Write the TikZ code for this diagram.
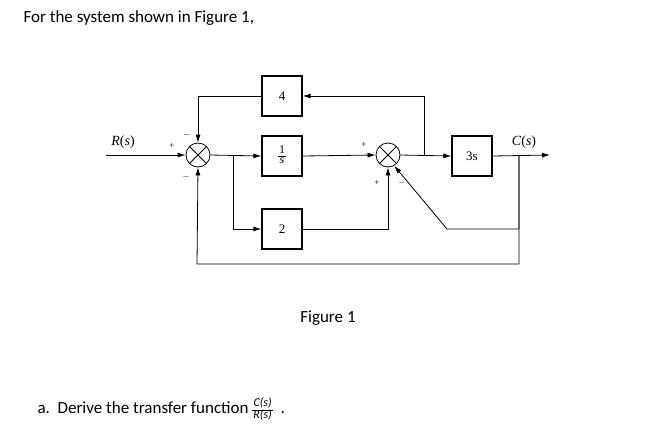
\documentclass[tikz,border=0pt]{standalone}
\usepackage{fontspec}
\setmainfont{Liberation Serif}
\newfontfamily\carl{Carlito}
\usetikzlibrary{arrows.meta}
\newcommand{\stk}[2]{\renewcommand{\arraystretch}{0.85}\setlength{\tabcolsep}{1pt}\begin{tabular}{c}#1\\\hline #2\end{tabular}}
\begin{document}
\begin{tikzpicture}[x=1pt,y=-1pt,
  blk/.style={draw,line width=1.3pt,minimum width=40pt,minimum height=40pt,inner sep=0pt,font=\fontsize{13}{14}\selectfont},
  sum/.style={draw,circle,minimum size=24pt,inner sep=0pt,line width=0.8pt},
  ln/.style={line width=0.8pt},
  ar/.style={ln,-{Latex[length=8pt,width=5pt]}},
  sg/.style={font=\fontsize{9}{9}\selectfont,inner sep=0pt},
  lb/.style={font=\fontsize{14}{15}\selectfont}]
\useasboundingbox (0,0) rectangle (650,432);
\node[font=\carl\fontsize{17}{18}\selectfont,anchor=west] (t) at (20,18) {For the system shown in Figure 1,};
\node[sum] (s1) at (198,155) {};
\draw[ln] (s1.45)--(s1.225) (s1.135)--(s1.315);
\node[sum] (s2) at (388,155) {};
\draw[ln] (s2.45)--(s2.225) (s2.135)--(s2.315);
\node[blk] (b4) at (282,96) {4};
\node[blk,font=\fontsize{12}{12}\selectfont] (b1) at (282,156) {\stk{1}{\textit{s}}};
\node[blk] (b2) at (282,229) {2};
\node[blk] (b3) at (472,156) {3s};
\coordinate (r) at (106,155);
\coordinate (j1) at (233,155);
\coordinate (j2) at (424,155);
\coordinate (j3) at (519,155);
\coordinate (o) at (550,155);
\coordinate (d1) at (447,229);
\node[lb] (rl) at (123,142) {\textit{R}(\textit{s})};
\node[lb] (cl) at (524,142) {\textit{C}(\textit{s})};
\draw[ar] (r)--(s1.west);
\draw[ar] (s1.east)--(b1.west);
\draw[ar] (j1)|-(b2.west);
\draw[ar] (b1.east)--(s2.west);
\draw[ar] (b2.east)-|(s2.south);
\draw[ar] (s2.east)--(b3.west);
\draw[ar] (b3.east)--(o);
\draw[ar] (j2)|-(b4.east);
\draw[ar] (b4.west)-|(s1.north);
\draw[ar] (j3)|-(197,264)--(s1.south);
\draw[ar] (j3)|-(d1)--(s2.-60);
\node[sg] (p1) at (172,146) {+};
\node[sg] (m1) at (187,135) {$-$};
\node[sg] (m2) at (186,177) {$-$};
\node[sg] (p2) at (364,145) {+};
\node[sg] (p3) at (377,183) {+};
\node[sg] (m3) at (402,183) {$-$};
\node[font=\carl\fontsize{17}{18}\selectfont] (f) at (328,318) {Figure 1};
\node[font=\carl\fontsize{17}{18}\selectfont,anchor=west] (q) at (34,410) {a.\ \ Derive the transfer function {\fontsize{12}{12}\selectfont\itshape\stk{C(s)}{R(s)}}\ \ .};
\end{tikzpicture}
\end{document}
